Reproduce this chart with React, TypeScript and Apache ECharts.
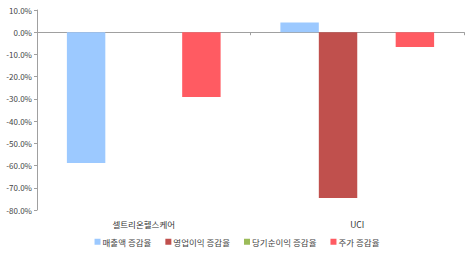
import React, { useEffect, useRef } from "react";
import * as echarts from "echarts";

const categories = ["셀트리온헬스케어", "UCI"];
const seriesNames = ["매출액 증감율", "영업이익 증감율", "당기순이익 증감율", "주가 증감율"];
const salesGrowth = [-58.9, 4.4];
const opProfitGrowth = [null, -74.6];
const netProfitGrowth = [null, null];
const stockGrowth = [-29.1, -6.6];
const colors = ["#9CC9FF", "#C0504D", "#9BBB59", "#FF5B62"];

const FONT = "'Noto Sans CJK KR', 'Noto Sans', sans-serif";

export default function App() {
  const ref = useRef<HTMLDivElement>(null);
  useEffect(() => {
    if (!ref.current) return;
    const chart = echarts.init(ref.current, undefined, { renderer: "svg" });
    const values = [salesGrowth, opProfitGrowth, netProfitGrowth, stockGrowth];
    chart.setOption({
      animation: false,
      color: colors,
      textStyle: { fontFamily: FONT },
      grid: { left: 37, right: 10, top: 10, bottom: 47 },
      legend: {
        bottom: 6,
        left: "center",
        itemWidth: 6,
        itemHeight: 6,
        itemGap: 14,
        icon: "rect",
        textStyle: { fontSize: 8.5, color: "#444", fontFamily: FONT, padding: [0, 0, 0, -3] },
        data: seriesNames,
      },
      xAxis: [
        {
          type: "category",
          data: categories,
          axisLine: { onZero: true, lineStyle: { color: "#A0A0A0", width: 1 } },
          axisTick: { show: true, length: 3, lineStyle: { color: "#A0A0A0" } },
          axisLabel: { show: false },
        },
        {
          type: "category",
          data: categories,
          position: "bottom",
          axisLine: { show: false, onZero: false },
          axisTick: { show: false },
          axisLabel: { show: true, fontSize: 8.5, color: "#333", margin: 10, fontFamily: FONT },
        },
      ],
      yAxis: {
        type: "value",
        min: -80,
        max: 10,
        interval: 10,
        axisLine: { show: true, lineStyle: { color: "#A0A0A0" } },
        axisTick: { show: true, length: 3, lineStyle: { color: "#A0A0A0" } },
        splitLine: { show: false },
        axisLabel: {
          fontSize: 8,
          color: "#444",
          margin: 5,
          formatter: (v: number) => v.toFixed(1) + "%",
        },
      },
      series: seriesNames.map((name, i) => ({
        name,
        type: "bar",
        xAxisIndex: 0,
        data: values[i],
        barGap: "0%",
        barCategoryGap: "28%",
        itemStyle: { color: colors[i] },
      })),
    });
    return () => chart.dispose();
  }, []);
  return (
    <div
      ref={ref}
      style={{ position: "fixed", left: 0, top: 0, width: 474, height: 257, background: "#fff" }}
    />
  );
}
